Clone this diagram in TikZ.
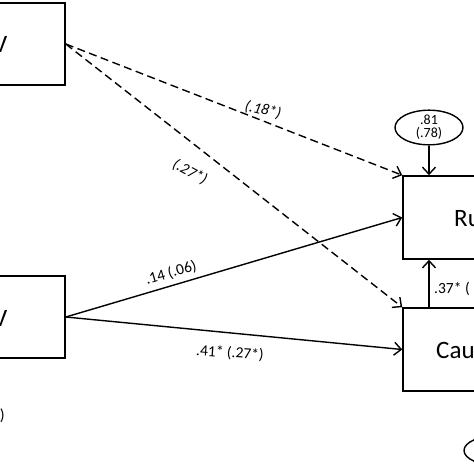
\documentclass[tikz,border=0pt]{standalone}
\usepackage{fontspec}
\setmainfont{Carlito}
\usetikzlibrary{arrows.meta,shapes.geometric}
\begin{document}
\begin{tikzpicture}[x=1pt,y=-1pt,
  box/.style={draw,line width=1.6pt,rectangle,inner sep=0pt},
  conn/.style={line width=1.4pt,-{Straight Barb[length=7pt,width=13pt,line width=1.4pt]}},
  dsh/.style={conn,dash pattern=on 8pt off 4.5pt},
  lbl/.style={font=\fontsize{15.5}{16}\selectfont,inner sep=0pt},
  big/.style={font=\fontsize{25}{28}\selectfont,inner sep=0pt},
  oval/.style={draw,ellipse,line width=1.4pt,minimum width=68pt,minimum height=30pt,inner sep=0pt}]
\useasboundingbox (0,0) rectangle (474,474);
\clip (0,0) rectangle (474,474);
% boxes
\node[box,minimum width=100pt,minimum height=82pt] (a) at (15,44) {};
\node[box,minimum width=100pt,minimum height=82pt] (b) at (15,317) {};
\node[box,minimum width=140pt,minimum height=83pt] (ru) at (473,217.5) {};
\node[box,minimum width=140pt,minimum height=83pt] (cau) at (473,349.5) {};
% box texts
\node[big,anchor=base east] (at) at (7.5,52) {V};
\node[big,anchor=base east] (bt) at (7.5,326) {V};
\node[big,anchor=base west] (rut) at (454,226) {Ru};
\node[big,anchor=base west] (caut) at (436,358) {Cau};
% residual ovals
\node[oval,align=center,font=\fontsize{14}{13}\selectfont] (e) at (429,127.5) {.81\\(.78)};
\node[oval] (e2) at (498,450.5) {};
\node[font=\fontsize{16}{17}\selectfont,anchor=east,inner sep=0pt] (p) at (5,416) {)};
% connectors
\draw[dsh] (a.east) -- (ru.north west);
\draw[dsh] (a.east) -- (cau.north west);
\draw[conn] (b.east) -- (ru.west);
\draw[conn] (b.east) -- (cau.west);
\draw[conn] (e.south) -- (e.south |- ru.north);
\draw[conn] (e.south |- cau.north) -- (e.south |- ru.south);
% labels
\node[lbl,rotate=-14] (l1) at (263,110) {\itshape(.18*)};
\node[lbl,rotate=-28] (l2) at (190,172) {\itshape(.27*)};
\node[lbl,rotate=16] (l3) at (171,273) {.14 (.06)};
\node[lbl,rotate=-4] (l4) at (230,353) {.41* (.27*)};
\node[lbl,anchor=west] (l5) at (434,289) {.37* (};
\end{tikzpicture}
\end{document}
